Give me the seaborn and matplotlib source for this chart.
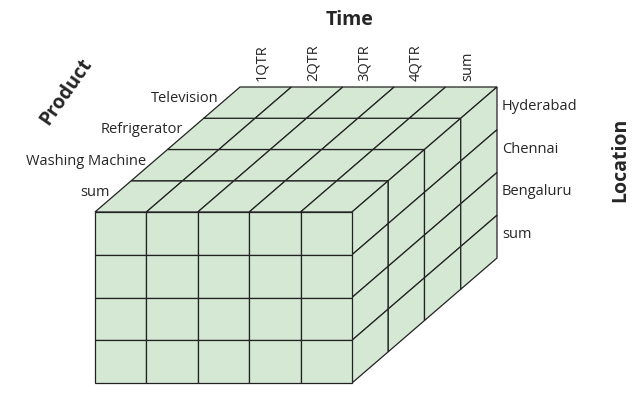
import matplotlib
matplotlib.use("Agg")
import matplotlib.pyplot as plt
from matplotlib.patches import Polygon
import seaborn as sns

sns.set_theme(style="white")
plt.rcParams['font.family'] = ['Open Sans', 'DejaVu Sans']

time_labels = ["1QTR", "2QTR", "3QTR", "4QTR", "sum"]
product_labels = ["Television", "Refrigerator", "Washing Machine", "sum"]
location_labels = ["Hyderabad", "Chennai", "Bengaluru", "sum"]

fig = plt.figure(figsize=(6.42, 4.0), dpi=100)
ax = fig.add_axes([0, 0, 1, 1])
ax.set_xlim(0, 642); ax.set_ylim(400, 0); ax.axis("off")

fill = "#d5e8d4"; edge = "#222222"
x0, y0, w, h = 95, 212, 51.4, 42.75
ddx, ddy = 145 / 4, -125 / 4
nc, nr, nd = len(time_labels), len(location_labels), len(product_labels)

def P(c, r, d):
    return (x0 + c * w + d * ddx, y0 + r * h + d * ddy)

def quad(pts):
    ax.add_patch(Polygon(pts, closed=True, facecolor=fill, edgecolor=edge, lw=0.9))

for c in range(nc):
    for d in range(nd):
        quad([P(c, 0, d), P(c + 1, 0, d), P(c + 1, 0, d + 1), P(c, 0, d + 1)])
for r in range(nr):
    for d in range(nd):
        quad([P(nc, r, d), P(nc, r, d + 1), P(nc, r + 1, d + 1), P(nc, r + 1, d)])
for c in range(nc):
    for r in range(nr):
        quad([P(c, r, 0), P(c + 1, r, 0), P(c + 1, r + 1, 0), P(c, r + 1, 0)])

fs = 10.5
for i, t in enumerate(time_labels):
    x, y = P(i + 0.5, 0, nd)
    ax.text(x - 4, y - 6, t, rotation=90, ha="center", va="bottom", fontsize=fs)
for i, t in enumerate(product_labels):
    x, y = P(0, 0, nd - i - 0.5)
    ax.text(x - 3, y - 4, t, ha="right", va="center", fontsize=fs)
for i, t in enumerate(location_labels):
    x, y = P(nc, i + 0.5, nd)
    ax.text(x + 5, y - 2, t, ha="left", va="center", fontsize=fs)

ax.text(350, 20, "Time", ha="center", va="center", fontsize=14, fontweight="bold")
ax.text(66, 92, "Product", ha="center", va="center", fontsize=14, fontweight="bold", rotation=55)
ax.text(620, 160, "Location", ha="center", va="center", fontsize=14, fontweight="bold", rotation=90)

fig.savefig("out.png", dpi=100, facecolor="white")
